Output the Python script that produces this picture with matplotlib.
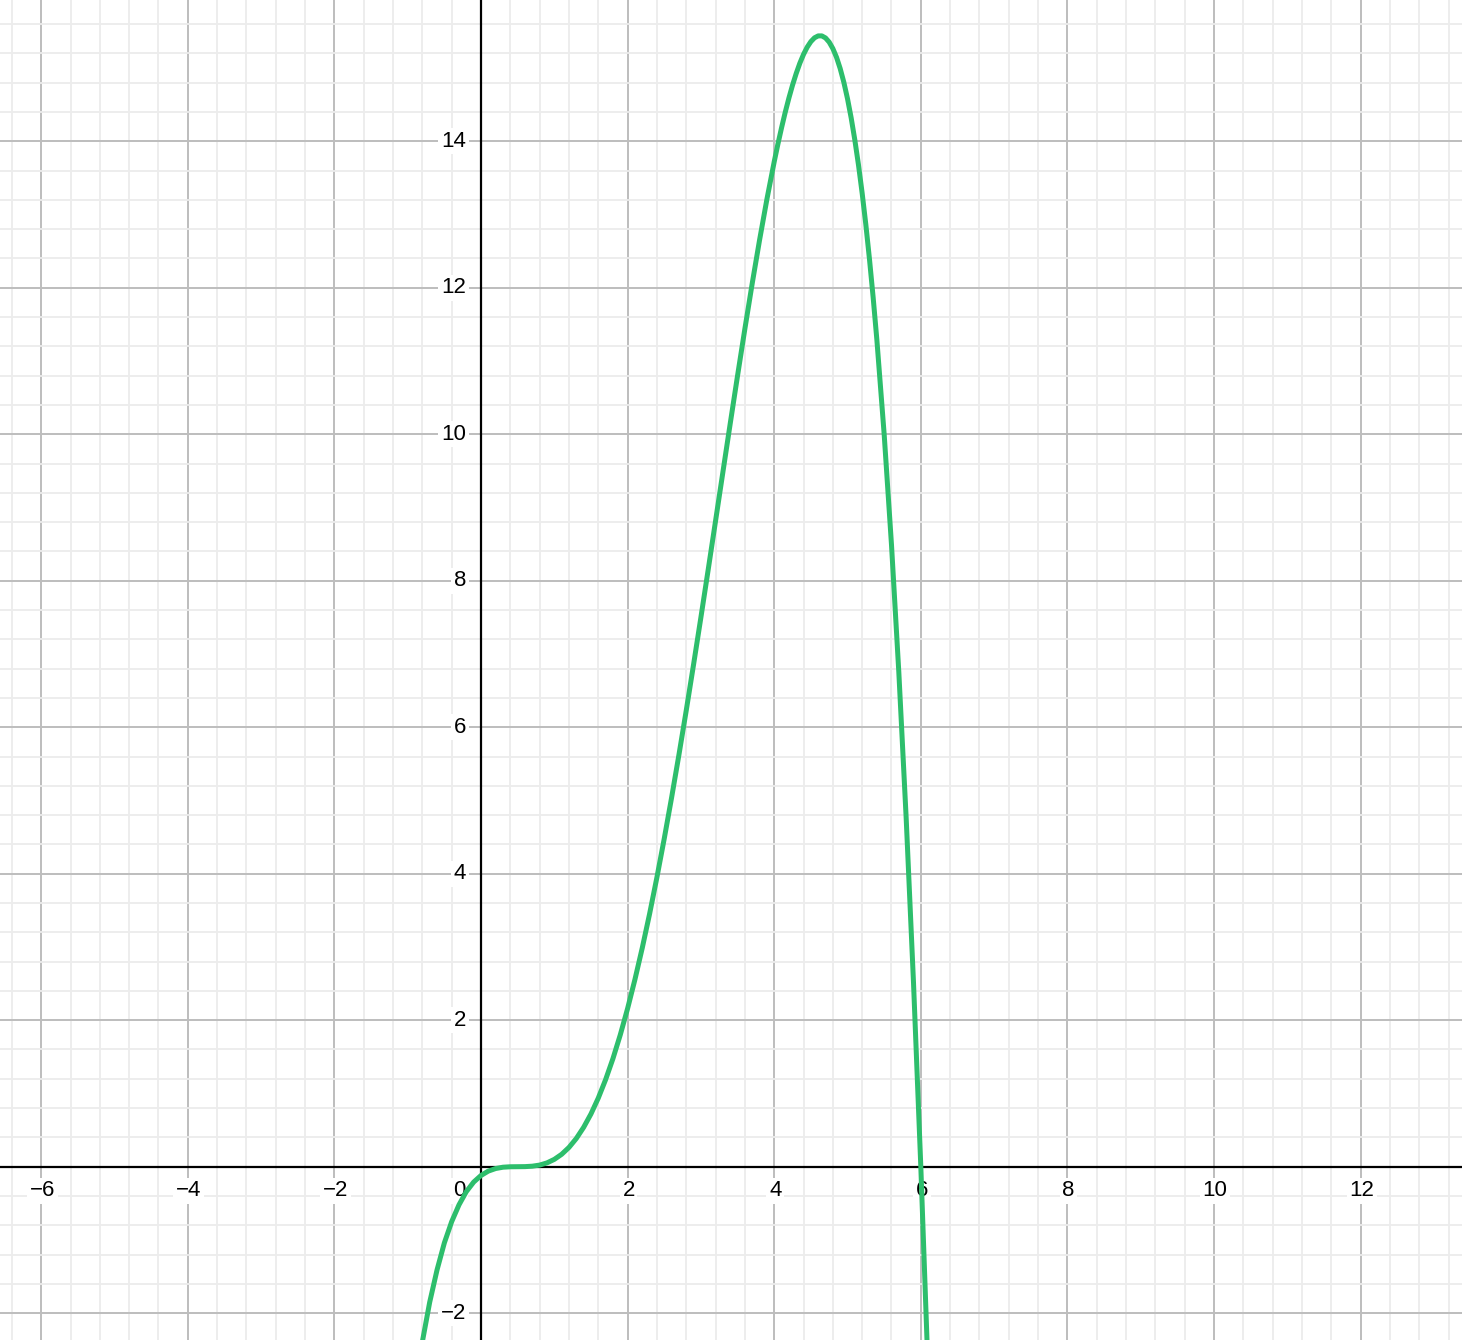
import matplotlib
matplotlib.use("Agg")
import matplotlib.pyplot as plt
from matplotlib.ticker import MultipleLocator

# ── Curve values (step 0.1, 0.05 around the peak) ────────────────────────────
X_VALS = [
    -0.9, -0.8, -0.7, -0.6, -0.5, -0.4, -0.3, -0.2, -0.1, 0.0,
    0.1, 0.2, 0.3, 0.4, 0.5, 0.6, 0.7, 0.8, 0.9, 1.0,
    1.1, 1.2, 1.3, 1.4, 1.5, 1.6, 1.7, 1.8, 1.9, 2.0,
    2.1, 2.2, 2.3, 2.4, 2.5, 2.6, 2.7, 2.8, 2.9, 3.0,
    3.1, 3.2, 3.3, 3.4, 3.5, 3.6, 3.7, 3.8, 3.9, 4.0,
    4.05, 4.1, 4.15, 4.2, 4.25, 4.3, 4.35, 4.4, 4.45, 4.5,
    4.55, 4.6, 4.65, 4.7, 4.75, 4.8, 4.85, 4.9, 4.95, 5.0,
    5.05, 5.1, 5.15, 5.2, 5.25, 5.3, 5.35, 5.4, 5.5, 5.6,
    5.7, 5.8, 5.9, 6.0, 6.1, 6.2,
]
Y_VALS = [
    -3.03, -2.39, -1.85, -1.41, -1.04, -0.75, -0.52, -0.34, -0.21, -0.12,
    -0.06, -0.025, -0.007, -0.001, 0.0, 0.001, 0.007, 0.022, 0.052, 0.10,
    0.169, 0.263, 0.385, 0.537, 0.72, 0.937, 1.189, 1.476, 1.80, 2.16,
    2.556, 2.987, 3.452, 3.951, 4.48, 5.038, 5.622, 6.229, 6.857, 7.50,
    8.155, 8.818, 9.483, 10.146, 10.80, 11.44, 12.059, 12.65, 13.206, 13.72,
    13.959, 14.183, 14.394, 14.588, 14.766, 14.925, 15.066, 15.186, 15.284, 15.36,
    15.412, 15.438, 15.438, 15.41, 15.353, 15.265, 15.146, 14.992, 14.804, 14.58,
    14.318, 14.016, 13.674, 13.289, 12.861, 12.386, 11.865, 11.294, 10.0, 8.49,
    6.749, 4.764, 2.519, 0.0, -2.81, -5.93,
]

X_TICKS = [-6, -4, -2, 2, 4, 6, 8, 10, 12]
Y_TICKS = [-2, 2, 4, 6, 8, 10, 12, 14]

CURVE_COLOR = "#2dbe6c"
LABEL_FONT = "Liberation Sans"
PX = 72 / 100  # points per pixel at dpi 100

# ── Figure ─────────────────────────────────────────────────────────────────────
fig = plt.figure(figsize=(14.62, 13.40), dpi=100)
ax = fig.add_axes([0, 0, 1, 1])
ax.set_xlim(-6.562, 13.383)
ax.set_ylim(-2.366, 15.928)

for s in ax.spines.values():
    s.set_visible(False)

# grid: minor every 0.4, major every 2
ax.xaxis.set_major_locator(MultipleLocator(2))
ax.yaxis.set_major_locator(MultipleLocator(2))
ax.xaxis.set_minor_locator(MultipleLocator(0.4))
ax.yaxis.set_minor_locator(MultipleLocator(0.4))
ax.tick_params(which="both", length=0, labelleft=False, labelbottom=False)
ax.grid(which="minor", color="#ececec", linewidth=1.3, zorder=0)
ax.grid(which="major", color="#bdbdbd", linewidth=1.4, zorder=1)
ax.set_axisbelow(True)

# axes lines
ax.axhline(0, color="black", linewidth=1.6, zorder=2)
ax.axvline(0, color="black", linewidth=1.6, zorder=2)

# tick labels with white boxes
box = dict(boxstyle="square,pad=0.12", facecolor="white", edgecolor="none")
label_kw = dict(textcoords="offset points", va="center", fontsize=16,
                family=LABEL_FONT, bbox=box, zorder=3)
for xt in X_TICKS:
    ax.annotate(f"{xt}".replace("-", "\u2212"), xy=(xt, 0),
                xytext=(1 * PX, -24 * PX), ha="center", **label_kw)
for yt in Y_TICKS:
    ax.annotate(f"{yt}".replace("-", "\u2212"), xy=(0, yt),
                xytext=(-15 * PX, 0), ha="right", **label_kw)
ax.annotate("0", xy=(0, 0), xytext=(-16 * PX, -24 * PX), ha="right", **label_kw)

# curve
ax.plot(X_VALS, Y_VALS, color=CURVE_COLOR, linewidth=3.6,
        solid_capstyle="round", solid_joinstyle="round", zorder=4)

fig.savefig("out.png", dpi=100)
